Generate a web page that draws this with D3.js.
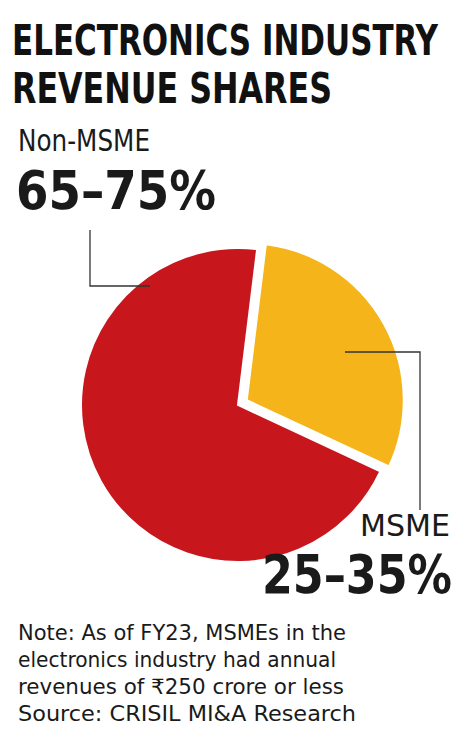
<!DOCTYPE html>
<html><head><meta charset="utf-8">
<script src="https://cdn.jsdelivr.net/npm/d3@7"></script>
<style>body{margin:0;background:#fff}</style></head>
<body><svg id="c" width="470" height="752"></svg>
<script>
const categories = ["MSME","Non-MSME"];
const shares = [30, 70];
const labels = ["25–35%","65–75%"];
const colors = ["#f4b41a","#c8161d"];
const noteLines = ["Note: As of FY23, MSMEs in the","electronics industry had annual","revenues of ₹250 crore or less","Source: CRISIL MI&A Research"];

const svg = d3.select("#c");
const F = "'DejaVu Sans Condensed','Liberation Sans Narrow',sans-serif";
svg.append("text").attr("x",12).attr("y",55).attr("textLength",426).attr("lengthAdjust","spacingAndGlyphs")
 .attr("font-family",F).attr("font-weight","bold").attr("font-size",43).attr("fill","#111").text("ELECTRONICS INDUSTRY");
svg.append("text").attr("x",12).attr("y",103).attr("textLength",320).attr("lengthAdjust","spacingAndGlyphs")
 .attr("font-family",F).attr("font-weight","bold").attr("font-size",43).attr("fill","#111").text("REVENUE SHARES");

const cx=238, cy=405, r=157;
const start = 7*Math.PI/180;
const pie = d3.pie().sort(null).startAngle(start).endAngle(start+2*Math.PI)(shares);
const arc = d3.arc().innerRadius(0).outerRadius(r);
const g = svg.append("g").attr("transform",`translate(${cx},${cy})`);
pie.forEach((d,i)=>{
  const off = i===0?10:0, m=(d.startAngle+d.endAngle)/2;
  g.append("path").attr("d",arc(d)).attr("fill",colors[i])
   .attr("transform",`translate(${off*Math.sin(m)},${-off*Math.cos(m)})`)
   .attr("stroke","#fff").attr("stroke-width",2);
});

const ln = (pts)=>svg.append("path").attr("d",d3.line()(pts)).attr("fill","none").attr("stroke","#333").attr("stroke-width",1.3);
ln([[90,230],[90,286],[150,286]]);
ln([[345,352],[420,352],[420,510]]);

const T=(x,y,s,w,t,len)=>{const e=svg.append("text").attr("x",x).attr("y",y).attr("font-family",F).attr("font-size",s).attr("font-weight",w).attr("fill","#1a1a1a").text(t); if(len) e.attr("textLength",len).attr("lengthAdjust","spacingAndGlyphs");};
T(18,151,31,"normal",categories[1],132);
T(16,209,54,"bold",labels[1],200);
T(360,536,31,"normal",categories[0],90);
T(262,593,54,"bold",labels[0],190);
noteLines.forEach((t,i)=>T(18,640+i*27,21,"normal",t,[328,318,326,338][i]));
</script></body></html>
